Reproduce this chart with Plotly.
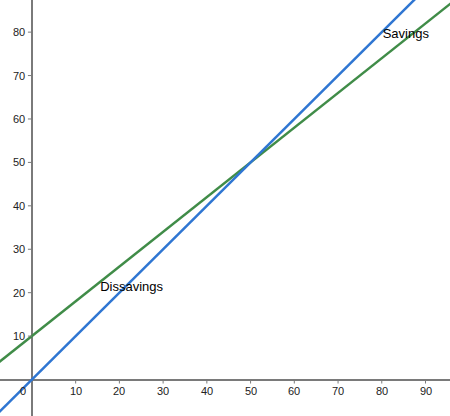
import plotly.graph_objects as go

income = [-10, 100]
consumption_45 = [-10, 100]     # 45-degree line (blue)
consumption = [2, 90]           # consumption function (green), intercept 10, crosses at 50
x_ticks = [10, 20, 30, 40, 50, 60, 70, 80, 90]
y_ticks = [10, 20, 30, 40, 50, 60, 70, 80]
labels = ["Savings", "Dissavings"]
label_x = [80.2, 15.6]
label_y = [79.5, 21.2]

blue = "#2f76d2"
green = "#408c48"
axis_gray = "#7a7a7a"
font = "Liberation Sans, Arial, sans-serif"

fig = go.Figure()
fig.add_trace(go.Scatter(x=income, y=consumption, mode="lines",
                         line=dict(color=green, width=2.5), hoverinfo="skip"))
fig.add_trace(go.Scatter(x=income, y=consumption_45, mode="lines",
                         line=dict(color=blue, width=2.5), hoverinfo="skip"))
fig.add_trace(go.Scatter(x=label_x, y=label_y, mode="text", text=labels,
                         textposition="middle right",
                         textfont=dict(size=13, color="black", family=font),
                         hoverinfo="skip"))

annotations = []
shapes = []
for t in x_ticks:
    annotations.append(dict(x=t, y=0, xref="x", yref="y", text=str(t), showarrow=False,
                            yanchor="top", yshift=-3, font=dict(size=11, color="#222", family=font)))
    shapes.append(dict(type="line", xref="x", yref="y", x0=t, x1=t, ysizemode="pixel",
                       yanchor=0, y0=0, y1=-4, line=dict(color=axis_gray, width=1)))
for t in y_ticks:
    annotations.append(dict(x=0, y=t, xref="x", yref="y", text=str(t), showarrow=False,
                            xanchor="right", xshift=-5, font=dict(size=11, color="#222", family=font)))
    shapes.append(dict(type="line", xref="x", yref="y", y0=t, y1=t, xsizemode="pixel",
                       xanchor=0, x0=-4, x1=0, line=dict(color=axis_gray, width=1)))
annotations.append(dict(x=0, y=0, xref="x", yref="y", text="0", showarrow=False,
                        xanchor="right", yanchor="top", xshift=-4, yshift=-3,
                        font=dict(size=11, color="#222", family=font)))

fig.update_layout(
    width=450, height=416,
    margin=dict(l=0, r=0, t=0, b=0),
    paper_bgcolor="white", plot_bgcolor="white",
    showlegend=False,
    annotations=annotations,
    shapes=shapes,
    xaxis=dict(range=[-7.3, 95.6], showgrid=False, showticklabels=False, ticks="",
               zeroline=True, zerolinecolor=axis_gray, zerolinewidth=1.5, fixedrange=True),
    yaxis=dict(range=[-8.4, 87.4], showgrid=False, showticklabels=False, ticks="",
               zeroline=True, zerolinecolor=axis_gray, zerolinewidth=1.5, fixedrange=True),
)

fig.write_html("out.html", config=dict(displayModeBar=False),
               post_script="document.body.style.margin='0';")
